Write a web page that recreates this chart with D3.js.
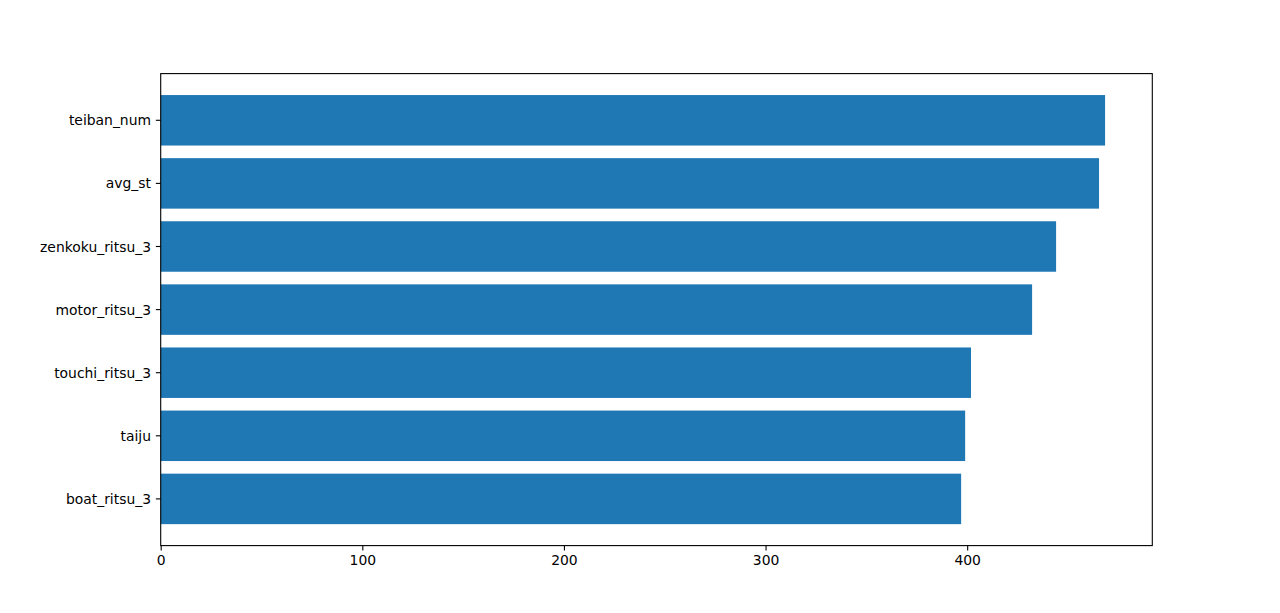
<!DOCTYPE html>
<html>
<head>
<meta charset="utf-8">
<script src="https://cdn.jsdelivr.net/npm/d3@7"></script>
<style>
  html, body { margin: 0; padding: 0; background: #fff; }
  svg { display: block; }
  text { font-family: "DejaVu Sans", sans-serif; }
</style>
</head>
<body>
<svg id="chart"></svg>
<script>
// feature names, top to bottom
const features = ["teiban_num", "avg_st", "zenkoku_ritsu_3", "motor_ritsu_3", "touchi_ritsu_3", "taiju", "boat_ritsu_3"];
// importance values
const importance = [468.4, 465.4, 444.1, 432.2, 401.9, 399.0, 397.0];
const xTicks = [0, 100, 200, 300, 400];

const width = 1280;
const height = 613;
const marginLeft = 160.7;
const marginRight = 1280 - 1152.3;
const marginTop = 73.6;
const marginBottom = 613 - 545.6;
const color = "#1f77b4";
const fontSize = 13.9; // 10pt at 100 dpi
const tickLen = 4.86;

const svg = d3.select("#chart")
  .attr("width", width)
  .attr("height", height)
  .attr("viewBox", [0, 0, width, height]);

const xMax = d3.max(importance) * 1.05;
const xScale = d3.scaleLinear([0, xMax], [marginLeft, width - marginRight]);
const yScale = d3.scaleBand(features, [marginTop, height - marginBottom])
  .paddingInner(0.2)
  .paddingOuter(0.34);

// bars
svg.append("g")
  .attr("fill", color)
  .selectAll("rect")
  .data(features)
  .join("rect")
  .attr("x", xScale(0))
  .attr("y", (d) => yScale(d))
  .attr("width", (d, i) => xScale(importance[i]) - xScale(0))
  .attr("height", yScale.bandwidth());

// frame
svg.append("rect")
  .attr("x", marginLeft)
  .attr("y", marginTop)
  .attr("width", width - marginLeft - marginRight)
  .attr("height", height - marginTop - marginBottom)
  .attr("fill", "none")
  .attr("stroke", "#000")
  .attr("stroke-width", 1.1);

const xAxis = d3.axisBottom(xScale)
  .tickValues(xTicks)
  .tickSize(tickLen)
  .tickPadding(4.86)
  .tickSizeOuter(0);

svg.append("g")
  .attr("transform", `translate(0,${height - marginBottom})`)
  .call(xAxis)
  .call((g) => g.select(".domain").remove())
  .call((g) => g.selectAll(".tick line").attr("stroke-width", 1.1))
  .call((g) => g.selectAll(".tick text")
    .attr("font-size", fontSize)
    .attr("fill", "#000"));

const yAxis = d3.axisLeft(yScale)
  .tickSize(tickLen)
  .tickPadding(4.86)
  .tickSizeOuter(0);

svg.append("g")
  .attr("transform", `translate(${marginLeft},0)`)
  .call(yAxis)
  .call((g) => g.select(".domain").remove())
  .call((g) => g.selectAll(".tick line").attr("stroke-width", 1.1))
  .call((g) => g.selectAll(".tick text")
    .attr("font-size", fontSize)
    .attr("dy", "0.36em")
    .attr("fill", "#000"));
</script>
</body>
</html>
